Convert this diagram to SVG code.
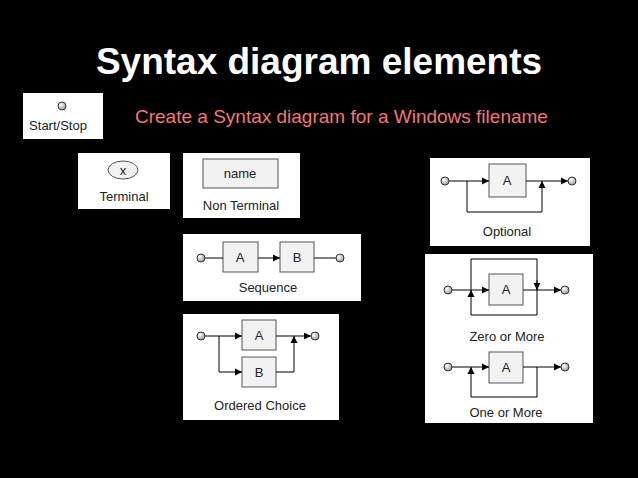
<svg xmlns="http://www.w3.org/2000/svg" width="638" height="478" viewBox="0 0 638 478">
<defs>
<marker id="ar" markerWidth="8" markerHeight="8" refX="7" refY="4" orient="auto" markerUnits="userSpaceOnUse"><path d="M0,0.5 L7,4 L0,7.5 z" fill="#000"/></marker>
<radialGradient id="cg" cx="0.35" cy="0.35" r="0.7"><stop offset="0" stop-color="#fff"/><stop offset="1" stop-color="#999"/></radialGradient>
</defs>
<style>
.p{fill:#fff}
.b{fill:#f2f2f2;stroke:#555;stroke-width:1}
.c{fill:url(#cg);stroke:#333;stroke-width:1}
.l{fill:none;stroke:#000;stroke-width:1}
.t{font-family:"Liberation Sans",Arial,sans-serif;font-size:13px;fill:#222;text-anchor:middle}
</style>
<rect width="638" height="478" fill="#000"/>
<text x="319" y="74" font-family="Liberation Sans,Arial,sans-serif" font-weight="bold" font-size="37" fill="#fff" text-anchor="middle">Syntax diagram elements</text>
<text x="135" y="123" font-family="Liberation Sans,Arial,sans-serif" font-size="19" fill="#f07878">Create a Syntax diagram for a Windows filename</text>
<g id="startstop"><rect class="p" x="23" y="93" width="80" height="46"/><circle class="c" cx="62" cy="106" r="4"/><text class="t" x="58" y="130">Start/Stop</text></g>
<g id="terminal"><rect class="p" x="78" y="153" width="92" height="56"/><ellipse class="b" cx="123" cy="170" rx="15" ry="9"/><text class="t" x="123" y="175" font-size="12">x</text><text class="t" x="124" y="201">Terminal</text></g>
<g id="nonterminal"><rect class="p" x="183" y="153" width="117" height="65"/><rect class="b" x="203" y="159" width="75" height="29"/><text class="t" x="240" y="178">name</text><text class="t" x="241" y="210">Non Terminal</text></g>
<g id="sequence"><rect class="p" x="183" y="234" width="178" height="67"/><rect class="b" x="223" y="242" width="35" height="30"/><text class="t" x="240" y="262">A</text><rect class="b" x="280" y="242" width="34" height="30"/><text class="t" x="297" y="262">B</text><text class="t" x="268" y="292">Sequence</text></g>
<g id="choice"><rect class="p" x="183" y="314" width="156" height="106"/><rect class="b" x="242" y="320" width="34" height="30"/><text class="t" x="259" y="340">A</text><rect class="b" x="242" y="357" width="34" height="30"/><text class="t" x="259" y="377">B</text><text class="t" x="260" y="410">Ordered Choice</text></g>
<g id="optional"><rect class="p" x="430" y="158" width="160" height="88"/><rect class="b" x="489" y="164" width="37" height="33"/><text class="t" x="507" y="185">A</text><text class="t" x="507" y="236" font-size="14">Optional</text></g>
<g id="repeat"><rect class="p" x="425" y="254" width="168" height="169"/><rect class="b" x="489" y="274" width="34" height="31"/><text class="t" x="506" y="294">A</text><text class="t" x="507" y="341">Zero or More</text><rect class="b" x="489" y="352" width="34" height="31"/><text class="t" x="506" y="372">A</text><text class="t" x="506" y="417">One or More</text></g>
<g id="connectors">
<path class="l" d="M205,258 H223"/><path class="l" d="M258,258 H280" marker-end="url(#ar)"/><path class="l" d="M314,258 H336"/>
<path class="l" d="M205,336 H242" marker-end="url(#ar)"/><path class="l" d="M219,336 V372 H242" marker-end="url(#ar)"/><path class="l" d="M276,336 H311" marker-end="url(#ar)"/><path class="l" d="M276,372 H294 V336" marker-end="url(#ar)"/>
<path class="l" d="M449,181 H489" marker-end="url(#ar)"/><path class="l" d="M467,181 V212 H542 V181" marker-end="url(#ar)"/><path class="l" d="M526,181 H568" marker-end="url(#ar)"/>
<path class="l" d="M452,290 H489" marker-end="url(#ar)"/><path class="l" d="M523,290 H561" marker-end="url(#ar)"/><path class="l" d="M537,290 V259 H471 V290"/><path class="l" d="M471,315 V290" marker-end="url(#ar)"/><path class="l" d="M471,315 H537 V290"/><path class="l" d="M537,280 V290" marker-end="url(#ar)"/>
<path class="l" d="M452,367 H489" marker-end="url(#ar)"/><path class="l" d="M523,367 H561" marker-end="url(#ar)"/><path class="l" d="M537,367 V397 H471 V367" marker-end="url(#ar)"/>
</g>
<g id="circles"><circle class="c" cx="201" cy="258" r="4"/><circle class="c" cx="340" cy="258" r="4"/><circle class="c" cx="201" cy="336" r="4"/><circle class="c" cx="315" cy="336" r="4"/><circle class="c" cx="445" cy="181" r="4"/><circle class="c" cx="572" cy="181" r="4"/><circle class="c" cx="448" cy="290" r="4"/><circle class="c" cx="565" cy="290" r="4"/><circle class="c" cx="448" cy="367" r="4"/><circle class="c" cx="565" cy="367" r="4"/></g>
</svg>
